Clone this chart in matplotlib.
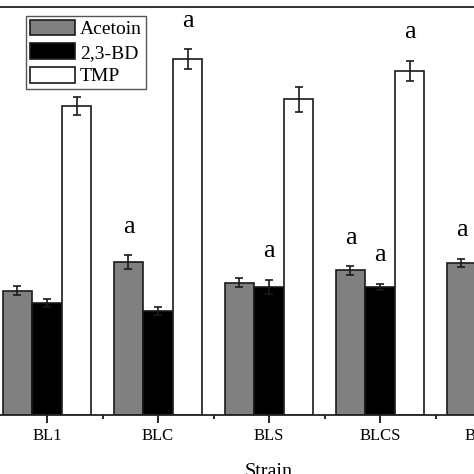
import numpy as np
import matplotlib
matplotlib.use("Agg")
import matplotlib.pyplot as plt

plt.rcParams['font.family'] = ['Liberation Serif', 'DejaVu Serif']

# data (arbitrary units, axis 0-50)
strains = ['BL1', 'BLC', 'BLS', 'BLCS', 'BLCSA']
acetoin = [15.2, 18.7, 16.2, 17.7, 18.6]
acetoin_err = [0.53, 0.86, 0.58, 0.55, 0.53]
bd = [13.7, 12.75, 15.7, 15.7, 15.0]
bd_err = [0.49, 0.49, 0.86, 0.37, 0.5]
tmp = [37.9, 43.6, 38.7, 42.2, 42.0]
tmp_err = [1.1, 1.23, 1.53, 1.23, 1.2]
# significance letters: (series, strain index)
letters = [('acetoin', 1), ('tmp', 1), ('bd', 2), ('acetoin', 3),
           ('bd', 3), ('tmp', 3), ('acetoin', 4)]

fig = plt.figure(figsize=(4.74, 4.74), dpi=100)
# axes wider than the figure: the reference is a crop
ax = fig.add_axes([-8.5/474, 59.3/474, 555/474, 407.7/474])

x = np.arange(1, len(strains) + 1)
w = 0.266
series = {
    'acetoin': (x - w, acetoin, acetoin_err, '#808080', 'Acetoin'),
    'bd': (x, bd, bd_err, 'black', '2,3-BD'),
    'tmp': (x + w, tmp, tmp_err, 'white', 'TMP'),
}
for key in ['acetoin', 'bd', 'tmp']:
    xs, vals, errs, col, lab = series[key]
    ax.bar(xs, vals, width=w, color=col, edgecolor='#1a1a1a', linewidth=1.2, label=lab)
    ax.errorbar(xs, vals, yerr=errs, fmt='none', ecolor='#1a1a1a',
                elinewidth=1.2, capsize=3.2, capthick=1.2)

for key, i in letters:
    xs, vals, errs, col, lab = series[key]
    ax.annotate('a', (xs[i], vals[i] + errs[i]), xytext=(0, 16),
                textcoords='offset points', ha='center', va='baseline', fontsize=19)

ax.set_xlim(0.5, 5.5)
ax.set_ylim(0, 50)
ax.set_xticks(x)
ax.set_xticklabels(strains, fontsize=12)
ax.set_xticks(x[:-1] + 0.5, minor=True)
ax.tick_params(axis='x', which='major', direction='out', length=5.5, width=1.2, pad=4)
ax.tick_params(axis='x', which='minor', direction='out', length=3, width=1.2)
ax.set_yticks([])
for s in ax.spines.values():
    s.set_linewidth(1.3)
    s.set_color('#222222')
ax.set_xlabel('Strain', fontsize=14.5, labelpad=13.5)

leg = ax.legend(loc='upper left', bbox_to_anchor=(34.2/555, 1 - 8.7/407.7),
                borderaxespad=0, fontsize=14, fancybox=False, framealpha=1,
                edgecolor='#555555', handlelength=2.32, handleheight=0.88,
                handletextpad=0.27, labelspacing=0.25, borderpad=0.2)
leg.get_frame().set_linewidth(1.0)

plt.savefig('out.png', dpi=100)
